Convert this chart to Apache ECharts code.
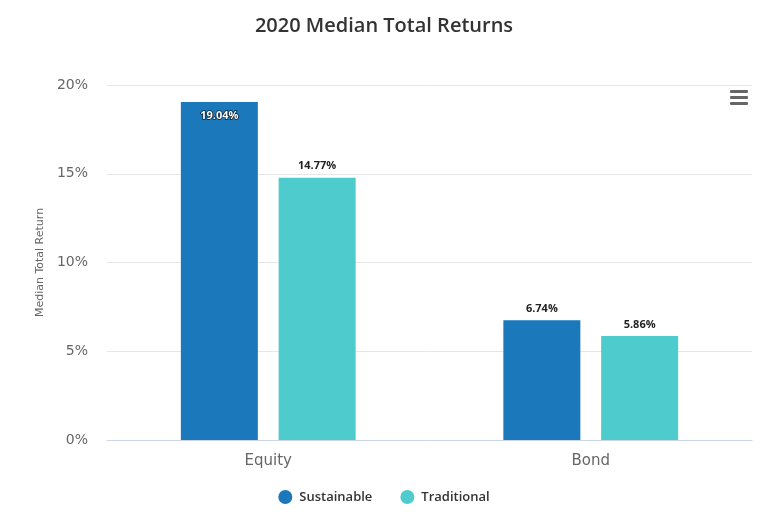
<!DOCTYPE html>
<html>
<head>
    <meta charset="utf-8">
    <title>2020 Median Total Returns</title>
    <script src="https://cdn.jsdelivr.net/npm/echarts@6/dist/echarts.min.js"></script>
    <style>
        html, body {margin: 0; padding: 0; background: #fff;}
    </style>
</head>
<body>
<div id="main" style="width: 768px;height:517px;"></div>

<script type="text/javascript">
    var categories = ['Equity', 'Bond'];
    var sustainable = [19.04, 6.74];
    var traditional = [14.77, 5.86];
    var yTicks = [0, 5, 10, 15, 20];

    var chartDom = document.getElementById('main');
    var myChart = echarts.init(chartDom);
    var font = '"Open Sans", sans-serif';
    var axisFont = '"DejaVu Sans", sans-serif';

    // label above the bar, except when it sits inside (the tallest one)
    function barData(values, insideIdx) {
        return values.map(function (v, i) {
            var item = {value: v};
            if (i === insideIdx) {
                item.label = {
                    position: 'insideTop',
                    distance: 8,
                    color: '#fff',
                    textBorderColor: 'rgba(0,0,0,0.75)',
                    textBorderWidth: 1.5
                };
            }
            return item;
        });
    }

    var option = {
        animation: false,
        textStyle: {fontFamily: font},
        title: {
            text: '2020 Median Total Returns',
            left: 'center',
            top: 11,
            textStyle: {fontSize: 20, fontWeight: 600, color: '#333', fontFamily: font}
        },
        legend: {
            bottom: 8,
            left: 'center',
            icon: 'circle',
            itemWidth: 14,
            itemHeight: 14,
            itemGap: 28,
            textStyle: {fontSize: 13, fontWeight: 600, color: '#333', padding: [0, 0, 0, 2]},
            data: ['Sustainable', 'Traditional']
        },
        grid: {left: 107, right: 16, top: 85, bottom: 77},
        xAxis: {
            type: 'category',
            data: categories,
            axisTick: {show: false},
            axisLine: {lineStyle: {color: '#ccd6eb'}},
            axisLabel: {fontSize: 15, color: '#666', margin: 14, fontFamily: axisFont}
        },
        yAxis: {
            type: 'value',
            min: yTicks[0],
            max: yTicks[yTicks.length - 1],
            interval: 5,
            name: 'Median Total Return',
            nameLocation: 'middle',
            nameGap: 58,
            nameTextStyle: {fontSize: 11, color: '#666', fontFamily: axisFont},
            axisLabel: {fontSize: 14, color: '#666', margin: 19, formatter: '{value}%', fontFamily: axisFont},
            splitLine: {lineStyle: {color: '#e6e6e6'}}
        },
        graphic: [
            {type: 'rect', left: 730, top: 90, shape: {width: 18, height: 3, r: 1}, style: {fill: '#666'}},
            {type: 'rect', left: 730, top: 96, shape: {width: 18, height: 3, r: 1}, style: {fill: '#666'}},
            {type: 'rect', left: 730, top: 102, shape: {width: 18, height: 3, r: 1}, style: {fill: '#666'}}
        ],
        series: [
            {
                name: 'Sustainable',
                type: 'bar',
                barWidth: 77,
                barGap: '27%',
                itemStyle: {color: '#1a78bb'},
                label: {
                    show: true, position: 'top', distance: 6,
                    fontSize: 11, fontWeight: 'bold', color: '#222',
                    formatter: function (p) { return p.value.toFixed(2) + '%'; }
                },
                data: barData(sustainable, 0)
            },
            {
                name: 'Traditional',
                type: 'bar',
                barWidth: 77,
                itemStyle: {color: '#4ecbcd'},
                label: {
                    show: true, position: 'top', distance: 6,
                    fontSize: 11, fontWeight: 'bold', color: '#222',
                    formatter: function (p) { return p.value.toFixed(2) + '%'; }
                },
                data: barData(traditional, -1)
            }
        ]
    };

    myChart.setOption(option);
</script>
</body>
</html>
